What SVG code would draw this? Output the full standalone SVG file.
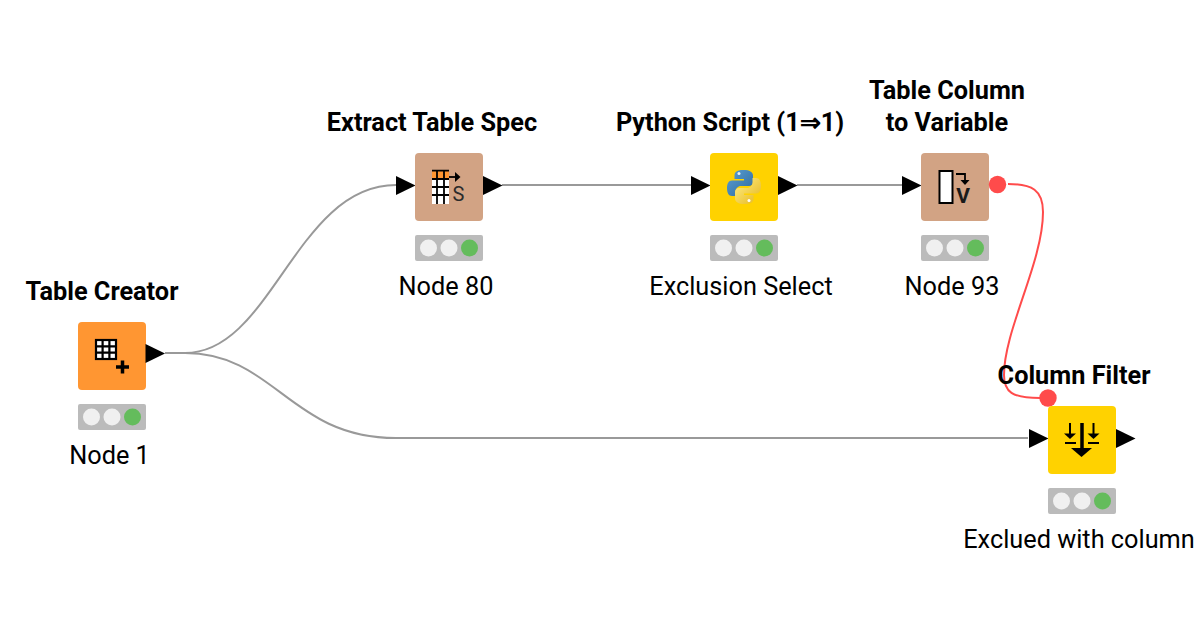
<svg xmlns="http://www.w3.org/2000/svg" width="1200" height="630" viewBox="0 0 1200 630">
<style>
text{font-family:Roboto,"Liberation Sans",sans-serif;text-anchor:middle;fill:#000}
.t{font-size:25.300px;font-weight:700}
.l{font-size:25.300px;font-weight:400}
.e{fill:none;stroke:#999;stroke-width:2}
.v{fill:none;stroke:#ff4b4b;stroke-width:2}
.body{stroke:none}
.port{fill:#000}
.vp{fill:#ff4b4b}
.st{fill:#bbb}
.off{fill:#f0f0f0}
.on{fill:#64bc5c}
.src{fill:#ff9632}
.man{fill:#d2a384}
.ylw{fill:#ffd200}
.k{fill:none;stroke:#000}
</style>
<defs>
<g id="status">
<rect class="st" width="68" height="26" rx="2"/>
<circle class="off" cx="13.500" cy="13" r="8.500"/>
<circle class="off" cx="34" cy="13" r="8.500"/>
<circle class="on" cx="54.500" cy="13" r="8.500"/>
</g>
<polygon id="tri" class="port" points="0,-9.500 19.500,0 0,9.500"/>
<linearGradient id="pb" x1="0" y1="0" x2="1" y2="1"><stop offset="0" stop-color="#5a9fd4"/><stop offset="1" stop-color="#2f6a9c"/></linearGradient>
<linearGradient id="py" x1="0" y1="0" x2="1" y2="1"><stop offset="0" stop-color="#fff08a"/><stop offset="1" stop-color="#e5b51a"/></linearGradient>
</defs>

<g id="connectors">
<path class="e" d="M165 353H185C272 353 296 185 396 185"/>
<path class="e" d="M165 353H185C275 353 290 438 396 438L1028 438"/>
<path class="e" d="M502 185L691 185"/>
<path class="e" d="M797 185L902 185"/>
<path class="v" d="M1008 184C1032 184 1043 190 1043 212C1043 262 1004 330 1004 375C1004 392 1012 398 1040 398"/>
</g>

<g id="node-table-creator">
<text class="t" x="102" y="299.500">Table Creator</text>
<rect class="body src" x="78" y="322" width="68" height="68" rx="4"/>
<rect x="96" y="340" width="20" height="19" fill="#fff" stroke="#000" stroke-width="2.200"/>
<path class="k" stroke-width="2.200" d="M102.600 340V359M109.400 340V359M96 346.300H116M96 352.700H116"/>
<path class="k" stroke-width="3.500" d="M116 367H129M122.500 360.500V373.500"/>
<use href="#tri" x="145.500" y="353.500"/>
<use href="#status" x="78" y="404"/>
<text class="l" x="109.500" y="463.500">Node 1</text>
</g>

<g id="node-extract-table-spec">
<text class="t" x="432" y="130.500">Extract Table Spec</text>
<use href="#tri" x="396" y="185.500"/>
<rect class="body man" x="415" y="153" width="68" height="68" rx="4"/>
<rect x="432" y="171" width="17" height="33" fill="#fff"/>
<rect x="432" y="171" width="17" height="8" fill="#ff9632"/>
<path class="k" stroke-width="1.800" d="M432 170.700H449M432 179H449M432 187H449M432 195H449M437 171V204M444 171V204"/>
<path class="k" stroke-width="1.800" d="M449 177H457"/>
<polygon class="port" points="455,172 460.500,177 455,182"/>
<text x="458.500" y="201" style="font-size:20px;fill:#2b2b2b">S</text>
<use href="#tri" x="483" y="185.500"/>
<use href="#status" x="415" y="235"/>
<text class="l" x="446" y="294.500">Node 80</text>
</g>

<g id="node-python-script">
<text class="t" x="730" y="130.500">Python Script (1⇒1)</text>
<use href="#tri" x="691" y="185.500"/>
<rect class="body ylw" x="710" y="153" width="68" height="68" rx="4"/>
<path fill="url(#pb)" d="M743.500 170C736 170 734.500 172.500 734.500 175.500V179H744V180.500H732C728.500 180.500 727 184 727 188C727 192.500 728.500 196 732 196H735.500V191.500C735.500 188.500 738 186 741 186H749C751.500 186 753 184 753 182V175.500C753 172 749.500 170 743.500 170Z"/>
<path fill="url(#py)" d="M744.500 204C752 204 753.500 201.500 753.500 198.500V195H744V193.500H756C759.500 193.500 761 190 761 186C761 181.500 759.500 178 756 178H752.500V182.500C752.500 185.500 750 188 747 188H739C736.500 188 735 190 735 192V198.500C735 202 738.500 204 744.500 204Z"/>
<circle cx="739" cy="173.500" r="1.500" fill="#e8f1f8"/>
<circle cx="749" cy="200.500" r="1.500" fill="#fff"/>
<use href="#tri" x="778" y="185.500"/>
<use href="#status" x="710" y="235"/>
<text class="l" x="741" y="294.500">Exclusion Select</text>
</g>

<g id="node-table-column-to-variable">
<text class="t" x="947" y="98.500">Table Column</text>
<text class="t" x="947" y="130.500">to Variable</text>
<use href="#tri" x="902" y="185.500"/>
<rect class="body man" x="921" y="153" width="68" height="68" rx="4"/>
<rect x="939.500" y="171" width="13" height="32" fill="#fff" stroke="#000" stroke-width="2"/>
<path class="k" stroke-width="1.800" d="M956 174H965V181"/>
<polygon class="port" points="960.500,180 969.500,180 965,185"/>
<text x="963" y="203" style="font-size:21px;font-weight:700;fill:#1a1a1a">V</text>
<circle class="vp" cx="997.500" cy="184.500" r="8.700"/>
<use href="#status" x="921" y="235"/>
<text class="l" x="952" y="294.500">Node 93</text>
</g>

<g id="node-column-filter">
<text class="t" x="1074" y="383.500">Column Filter</text>
<circle class="vp" cx="1048" cy="398" r="8.700"/>
<use href="#tri" x="1029" y="438.500"/>
<rect class="body ylw" x="1048" y="406" width="68" height="68" rx="4"/>
<path class="k" stroke-width="3.500" d="M1082 423V450"/>
<polygon class="port" points="1071,448 1092,448 1081.500,457"/>
<path class="k" stroke-width="2" d="M1070 423V436M1093.500 423V436"/>
<polygon class="port" points="1064,433.500 1076,433.500 1070,439"/>
<polygon class="port" points="1087.500,433.500 1099.500,433.500 1093.500,439"/>
<path class="k" stroke-width="2.200" d="M1065 443H1076M1088 443H1099"/>
<use href="#tri" x="1116" y="438.500"/>
<use href="#status" x="1048" y="488"/>
<text class="l" x="1079" y="547.500">Exclued with column</text>
</g>
</svg>
